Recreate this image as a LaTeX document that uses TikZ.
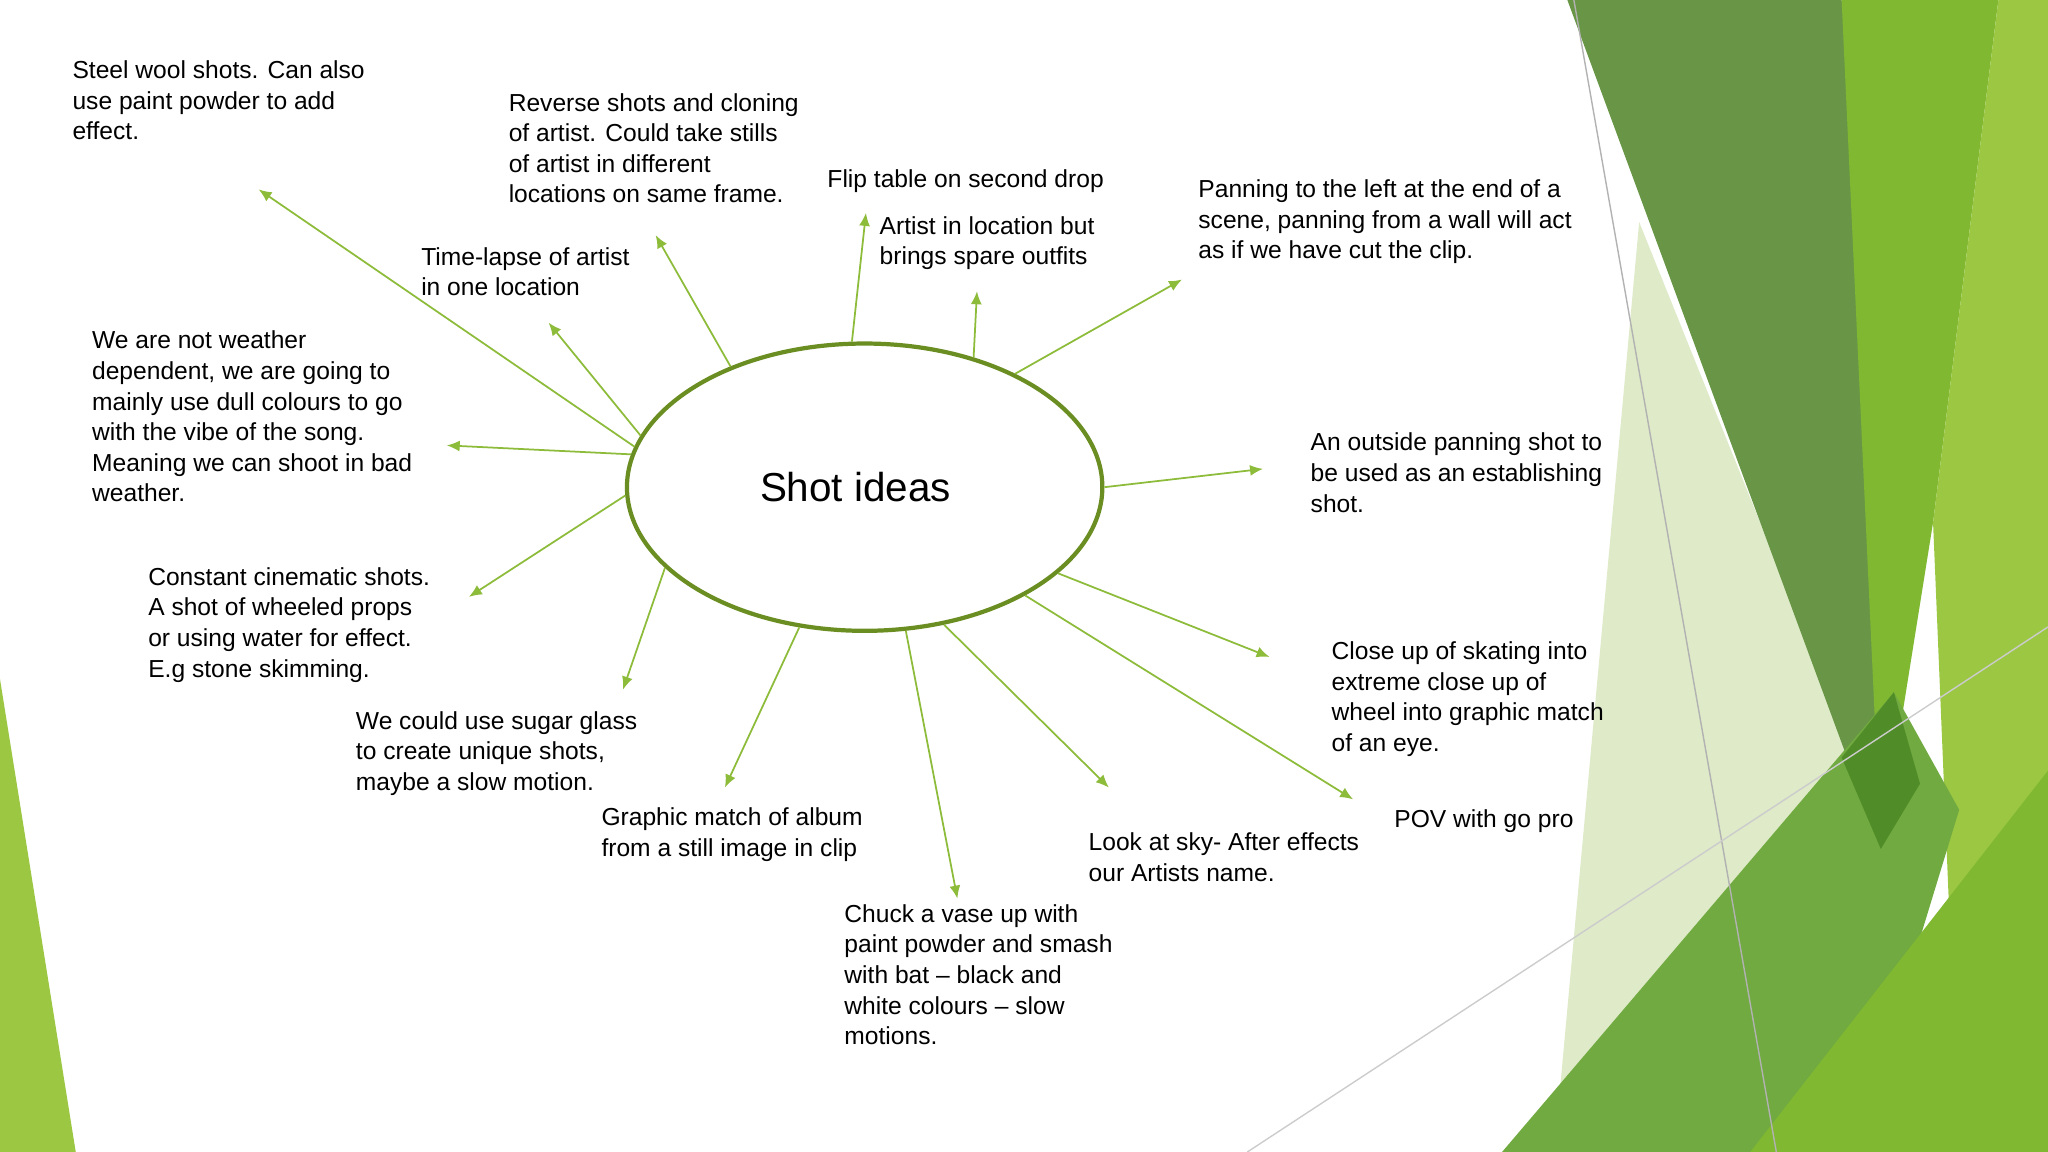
\documentclass[tikz,border=0pt]{standalone}
\usepackage{fontspec}
\setmainfont{Liberation Sans}
\usetikzlibrary{arrows.meta,positioning,shapes.geometric}
\definecolor{arr}{RGB}{141,187,58}
\definecolor{rim}{RGB}{107,142,35}
\definecolor{gdark}{RGB}{104,150,70}
\definecolor{gmid}{RGB}{112,170,64}
\definecolor{gbright}{RGB}{128,184,50}
\definecolor{glite}{RGB}{155,199,67}
\definecolor{gpale}{RGB}{222,234,200}
\definecolor{gdeep}{RGB}{80,140,40}

\begin{document}
\begin{tikzpicture}[
      x=0.013061cm, y=-0.013061cm,
      font=\fontsize{7}{8.7}\selectfont,
      >={Latex[length=1.3mm,width=1.1mm]},
      idea/.style={anchor=north west, inner sep=0pt, align=left},
      link/.style={->, draw=arr, line width=0.5pt},
]
\useasboundingbox (0,0) rectangle (1568,882);

% background shapes
\fill[gpale] (1255,170) -- (1420,580) -- (1330,882) -- (1190,882) -- cycle;
\fill[gdark] (1200,0) -- (1410,0) -- (1470,420) -- (1440,650) -- cycle;
\fill[gbright] (1410,0) -- (1530,0) -- (1480,400) -- (1440,650) -- cycle;
\fill[glite] (1530,0) -- (1568,0) -- (1568,882) -- (1500,882) -- (1480,400) -- cycle;
\fill[gmid] (1150,882) -- (1450,530) -- (1500,620) -- (1420,882) -- cycle;
\fill[gdeep] (1410,580) -- (1450,530) -- (1470,600) -- (1440,650) -- cycle;
\fill[gbright] (1340,882) -- (1568,590) -- (1568,882) -- cycle;
\fill[glite] (0,520) -- (58,882) -- (0,882) -- cycle;
\draw[black!30, line width=0.4pt] (1205,0) -- (1360,882);
\draw[black!20, line width=0.4pt] (955,882) -- (1568,480);

% hub
\node[draw=rim, line width=1.2pt, ellipse, minimum width=4.754cm, minimum height=2.873cm, inner sep=0pt, fill=white] (hub) at (662,373) {};
\node[font=\fontsize{11.5}{13}\selectfont] (title) at (655,373) {Shot ideas};

% ideas
\node[idea] (steel) at (55,46) {Steel wool shots. Can also\\use paint powder to add\\effect.};
\node[idea] (reverse) at (389,71) {Reverse shots and cloning\\of artist. Could take stills\\of artist in different\\locations on same frame.};
\node[idea] (flip) at (633,129) {Flip table on second drop};
\node[idea] (artist) at (673,165) {Artist in location but\\brings spare outfits};
\node[idea] (panleft) at (917,137) {Panning to the left at the end of a\\scene, panning from a wall will act\\as if we have cut the clip.};
\node[idea] (timelapse) at (322,189) {Time-lapse of artist\\in one location};
\node[idea] (weather) at (70,253) {We are not weather\\dependent, we are going to\\mainly use dull colours to go\\with the vibe of the song.\\Meaning we can shoot in bad\\weather.};
\node[idea] (outside) at (1003,331) {An outside panning shot to\\be used as an establishing\\shot.};
\node[idea] (cinematic) at (113,434) {Constant cinematic shots.\\A shot of wheeled props\\or using water for effect.\\E.g stone skimming.};
\node[idea] (skating) at (1019,491) {Close up of skating into\\extreme close up of\\wheel into graphic match\\of an eye.};
\node[idea] (sugar) at (272,544) {We could use sugar glass\\to create unique shots,\\maybe a slow motion.};
\node[idea] (album) at (460,618) {Graphic match of album\\from a still image in clip};
\node[idea] (pov) at (1067,619) {POV with go pro};
\node[idea] (sky) at (833,637) {Look at sky- After effects\\our Artists name.};
\node[idea] (vase) at (646,692) {Chuck a vase up with\\paint powder and smash\\with bat -- black and\\white colours -- slow\\motions.};

% arrow ends
\coordinate (e1) at (198,145);
\coordinate (e2) at (420,247);
\coordinate (e3) at (502,180);
\coordinate (e4) at (663,163);
\coordinate (e5) at (748,223);
\coordinate (e6) at (905,214);
\coordinate (e7) at (967,359);
\coordinate (e8) at (342,341);
\coordinate (e9) at (359,457);
\coordinate (e10) at (477,528);
\coordinate (e11) at (555,603);
\coordinate (e12) at (733,688);
\coordinate (e13) at (849,603);
\coordinate (e14) at (1036,612);
\coordinate (e15) at (972,503);

\draw[link] (hub.170) -- (e1);
\draw[link] (hub.167) -- (e2);
\draw[link] (hub.138) -- (e3);
\draw[link] (hub.95) -- (e4);
\draw[link] (hub.50) -- (e5);
\draw[link] (hub.37) -- (e6);
\draw[link] (hub.0) -- (e7);
\draw[link] (hub.172) -- (e8);
\draw[link] (hub.182) -- (e9);
\draw[link] (hub.202) -- (e10);
\draw[link] (hub.245) -- (e11);
\draw[link] (hub.286) -- (e12);
\draw[link] (hub.300) -- (e13);
\draw[link] (hub.326) -- (e14);
\draw[link] (hub.336) -- (e15);

\end{tikzpicture}
\end{document}
